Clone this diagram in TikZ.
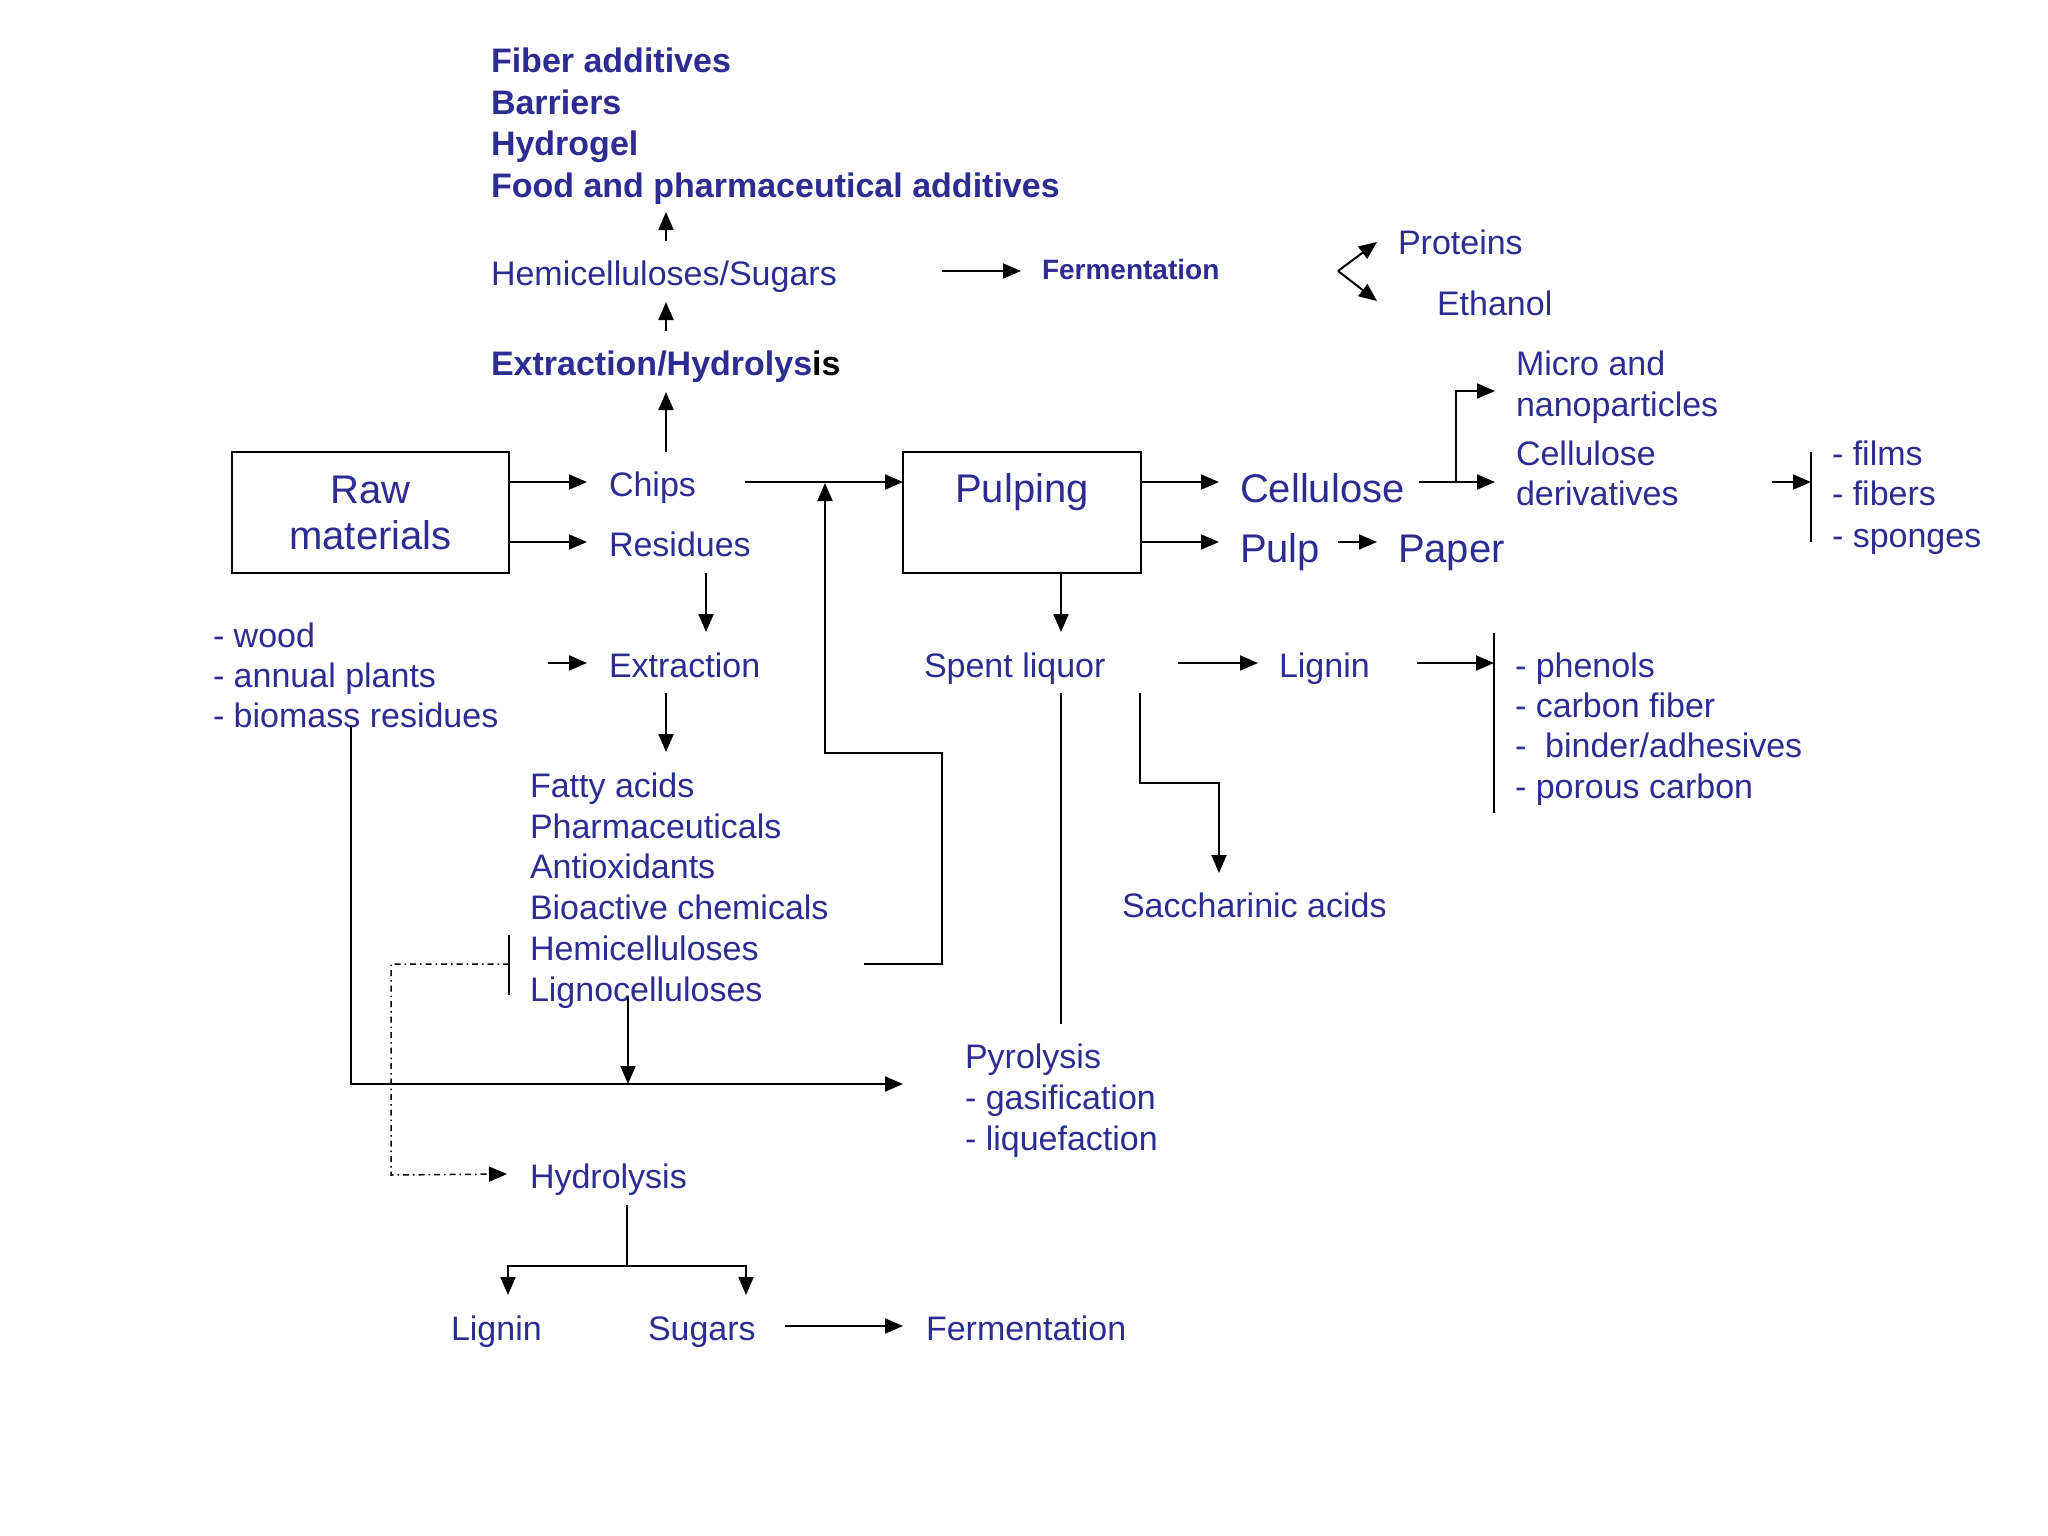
\documentclass[tikz,border=0pt]{standalone}
\usepackage{fontspec}
\setmainfont{Liberation Sans}
\usetikzlibrary{arrows.meta}
\definecolor{dblue}{RGB}{44,44,146}
\begin{document}
\begin{tikzpicture}[x=1pt,y=-1pt,
  every node/.style={inner sep=0pt, outer sep=0pt, text=dblue},
  t/.style={anchor=base west, font=\fontsize{34}{41}\selectfont, text height=28pt, text depth=0pt},
  tb/.style={anchor=base west, font=\fontsize{34}{41}\selectfont\bfseries, text height=28pt, text depth=0pt},
  tl/.style={anchor=base west, font=\fontsize{40}{46}\selectfont, text height=40pt, text depth=0pt},
  ts/.style={anchor=base west, font=\fontsize{28}{34}\selectfont\bfseries, text height=16pt, text depth=0pt},
  ln/.style={line width=2pt},
  arr/.style={ln, -{Triangle[length=18pt,width=15pt]}},
  dd/.style={line width=1.5pt, dash pattern=on 6pt off 4pt on 1.5pt off 4pt}]
\fill[white] (0,0) rectangle (2048,1536);
\useasboundingbox (0,0) rectangle (2048,1536);

% top list
\node[tb] (fa) at (491,73) {Fiber additives};
\node[tb] (barr) at (491,115) {Barriers};
\node[tb] (hydg) at (491,156) {Hydrogel};
\node[tb] (food) at (491,197) {Food and pharmaceutical additives};
\node[t] (hemisug) at (491,285) {Hemicelluloses/Sugars};
\node[tb] (exhyd) at (491,375) {Extraction/Hydrolys{\color{black}is}};
\node[ts] (ferm1) at (1042,279) {Fermentation};
\node[t] (prot) at (1398,254) {Proteins};
\node[t] (eth) at (1437,315) {Ethanol};

% boxes
\node[draw, ln, minimum width=277pt, minimum height=121pt, align=center,
      font=\fontsize{40}{46}\selectfont] (raw) at (370.5,512.5) {Raw\\materials};
\node[draw, ln, minimum width=238pt, minimum height=121pt] (pulpbox) at (1022,512.5) {};
\node[anchor=base, font=\fontsize{40}{46}\selectfont] (pulping) at (1022,502) {Pulping};

\node[t] (chips) at (609,496) {Chips};
\node[t] (resid) at (609,556) {Residues};
\node[tl] (cell) at (1240,502) {Cellulose};
\node[tl] (pulp) at (1240,562) {Pulp};
\node[tl] (paper) at (1398,562) {Paper};
\node[t] (micro) at (1516,375) {Micro and};
\node[t] (nano) at (1516,416) {nanoparticles};
\node[t] (cd1) at (1516,465) {Cellulose};
\node[t] (cd2) at (1516,505) {derivatives};
\node[t] (films) at (1832,465) {- films};
\node[t] (fibers) at (1832,505) {- fibers};
\node[t] (sponges) at (1832,547) {- sponges};

\node[t] (wood) at (213,647) {- wood};
\node[t] (annual) at (213,687) {- annual plants};
\node[t] (biom) at (213,727) {- biomass residues};
\node[t] (extr) at (609,677) {Extraction};
\node[t] (spent) at (924,677) {Spent liquor};
\node[t] (lign) at (1279,677) {Lignin};
\node[t] (phen) at (1515,677) {- phenols};
\node[t] (cfib) at (1515,717) {- carbon fiber};
\node[t] (bind) at (1515,757) {-~ binder/adhesives};
\node[t] (porc) at (1515,798) {- porous carbon};
\node[t] (sacch) at (1122,917) {Saccharinic acids};

\node[t] (fatty) at (530,797) {Fatty acids};
\node[t] (pharm) at (530,838) {Pharmaceuticals};
\node[t] (antiox) at (530,878) {Antioxidants};
\node[t] (bioact) at (530,919) {Bioactive chemicals};
\node[t] (hemi) at (530,960) {Hemicelluloses};
\node[t] (ligno) at (530,1001) {Lignocelluloses};

\node[t] (pyro) at (965,1068) {Pyrolysis};
\node[t] (gasif) at (965,1109) {- gasification};
\node[t] (liquef) at (965,1150) {- liquefaction};

\node[t] (hydro) at (530,1188) {Hydrolysis};
\node[t] (lig2) at (451,1340) {Lignin};
\node[t] (sug) at (648,1340) {Sugars};
\node[t] (ferm2) at (926,1340) {Fermentation};

% connectors
\draw[arr] (666,241) -- (666,212);
\draw[arr] (666,331) -- (666,302);
\draw[arr] (666,452) -- (666,392);
\draw[arr] ([xshift=-100pt]ferm1.west) -- ([xshift=-21pt]ferm1.west);
\draw[arr] (1338,271) -- (1377,242);
\draw[arr] (1338,271) -- (1377,301);

\draw[arr] (raw.east |- chips.west) -- ([xshift=-22pt]chips.west);
\draw[arr] (raw.east |- resid.west) -- ([xshift=-22pt]resid.west);
\draw[arr] ([xshift=49pt]chips.east) -- (pulpbox.west |- chips.west);
\draw[arr] (864,964) -| (942,753) -| (825,483);

\draw[arr] (pulpbox.east |- cell.west) -- ([xshift=-21pt]cell.west);
\draw[arr] (pulpbox.east |- pulp.west) -- ([xshift=-21pt]pulp.west);
\draw[arr] ([xshift=18pt]pulp.east) -- ([xshift=-21pt]paper.west);
\draw[arr] ([xshift=14pt]cell.east) -- ([xshift=-21pt]cd1.west |- cell.west);
\draw[arr] (1456,482) |- (1495,391);
\draw[arr] (1772,482) -- (1811,482);
\draw[ln] (1811,452) -- (1811,542);

\draw[arr] (706,573) -- (706,632);
\draw[arr] ([xshift=-61pt]extr.west) -- ([xshift=-22pt]extr.west);
\draw[arr] (666,693) -- (666,752);

\draw[arr] (pulpbox.south -| 1061,0) -- (1061,632);
\draw[ln] (1061,693) -- (1061,1024);
\draw[arr] ([xshift=73pt]spent.east) -- ([xshift=-21pt]lign.west);
\draw[arr] ([xshift=47pt]lign.east) -- (lign.east -| 1494,0);
\draw[ln] (1494,633) -- (1494,813);
\draw[arr] (1140,693) |- (1219,783) -- (1219,873);

\draw[ln] (509,935) -- (509,995);
\draw[dd, -{Triangle[length=18pt,width=15pt]}] (509,964) -| (391,1175) -- ([xshift=-23pt]hydro.west);
\draw[arr] (351,725) |- (903,1084);
\draw[arr] (628,997) -- (628,1084);

\draw[arr] (627,1205) -- (627,1266) -| (508,1295);
\draw[arr] (627,1266) -| (746,1295);
\draw[arr] ([xshift=29pt]sug.east) -- ([xshift=-23pt]ferm2.west);
\end{tikzpicture}
\end{document}
